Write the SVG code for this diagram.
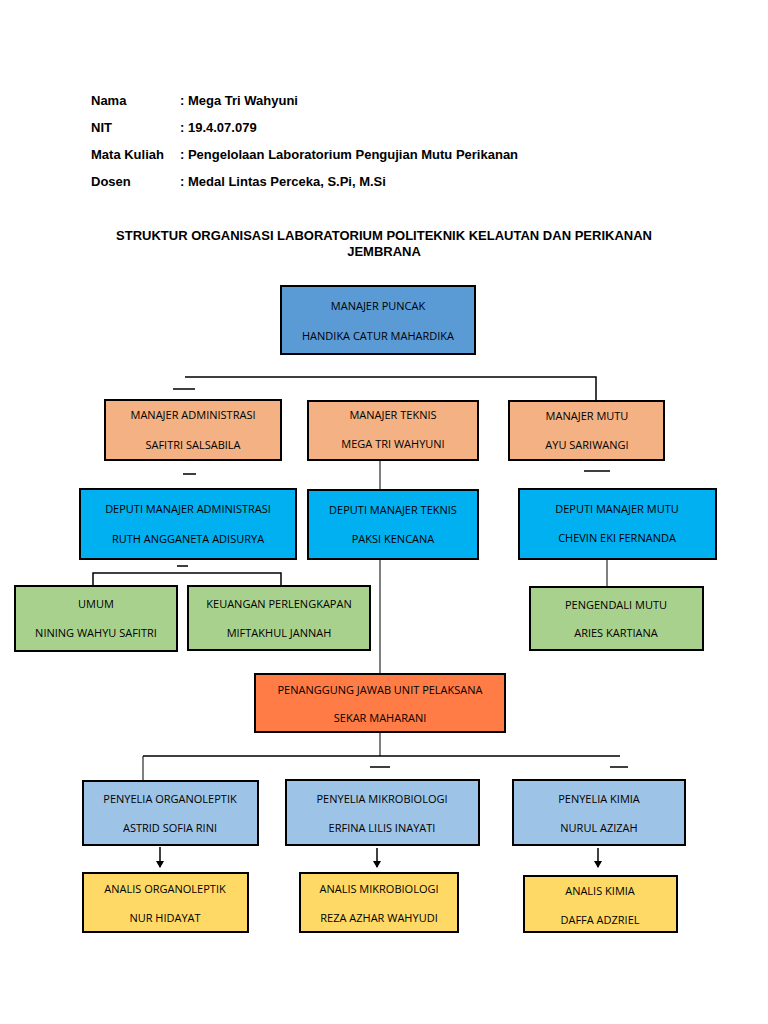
<svg xmlns="http://www.w3.org/2000/svg" width="768" height="1024" viewBox="0 0 768 1024">
<style>
.h{font-family:"Liberation Sans",Arial,sans-serif;font-size:13px;font-weight:bold;fill:#000}
.t{font-family:"Open Sans","Liberation Sans",sans-serif;font-size:11px;fill:#000;text-anchor:middle}
.b{stroke:#000;stroke-width:2}
.c{stroke:#000;stroke-width:1.5;fill:none}
.g{stroke:#555;stroke-width:1.5;fill:none}
</style>
<defs><marker id="a" markerWidth="8" markerHeight="8" refX="6" refY="4" orient="auto" markerUnits="userSpaceOnUse"><path d="M0,0 L7,4 L0,8 z" fill="#000"/></marker></defs>
<rect width="768" height="1024" fill="#fff"/>
<g id="header">
<text class="h" x="91" y="105">Nama</text><text class="h" x="180" y="105">: Mega Tri Wahyuni</text>
<text class="h" x="91" y="132">NIT</text><text class="h" x="180" y="132">: 19.4.07.079</text>
<text class="h" x="91" y="159">Mata Kuliah</text><text class="h" x="180" y="159">: Pengelolaan Laboratorium Pengujian Mutu Perikanan</text>
<text class="h" x="91" y="186">Dosen</text><text class="h" x="180" y="186">: Medal Lintas Perceka, S.Pi, M.Si</text>
<text class="h" x="384" y="240" text-anchor="middle">STRUKTUR ORGANISASI LABORATORIUM POLITEKNIK KELAUTAN DAN PERIKANAN</text>
<text class="h" x="384" y="256" text-anchor="middle">JEMBRANA</text>
</g>
<g id="connectors">
<path class="c" d="M185,377 H596 V401"/>
<path class="g" d="M380,460 V490 M380,559 V674 M607,559 V587 M380,732 V756 M143,756 V781"/>
<path class="c" d="M93,586 V573 H281 V586 M143,756 H620"/>
<path class="c" d="M173,389 H195 M183,474 H196 M584,471 H610 M177,566 H188 M370,767 H390 M610,767 H628"/>
<path class="c" d="M160,847 V867" marker-end="url(#a)"/>
<path class="c" d="M377,848 V867" marker-end="url(#a)"/>
<path class="c" d="M598,848 V867" marker-end="url(#a)"/>
</g>
<g id="puncak"><rect class="b" x="281" y="286" width="194" height="68" fill="#5B9BD5"/><text class="t" x="378" y="310">MANAJER PUNCAK</text><text class="t" x="378" y="340">HANDIKA CATUR MAHARDIKA</text></g>
<g id="madm"><rect class="b" x="105" y="400" width="176" height="60" fill="#F4B183"/><text class="t" x="193" y="419">MANAJER ADMINISTRASI</text><text class="t" x="193" y="449">SAFITRI SALSABILA</text></g>
<g id="mtek"><rect class="b" x="308" y="401" width="170" height="59" fill="#F4B183"/><text class="t" x="393" y="419">MANAJER TEKNIS</text><text class="t" x="393" y="448">MEGA TRI WAHYUNI</text></g>
<g id="mmutu"><rect class="b" x="509" y="401" width="155" height="59" fill="#F4B183"/><text class="t" x="587" y="420">MANAJER MUTU</text><text class="t" x="587" y="449">AYU SARIWANGI</text></g>
<g id="dadm"><rect class="b" x="80" y="489" width="216" height="70" fill="#00B0F0"/><text class="t" x="188" y="513">DEPUTI MANAJER ADMINISTRASI</text><text class="t" x="188" y="543">RUTH ANGGANETA ADISURYA</text></g>
<g id="dtek"><rect class="b" x="308" y="490" width="170" height="69" fill="#00B0F0"/><text class="t" x="393" y="514">DEPUTI MANAJER TEKNIS</text><text class="t" x="393" y="543">PAKSI KENCANA</text></g>
<g id="dmutu"><rect class="b" x="519" y="489" width="197" height="70" fill="#00B0F0"/><text class="t" x="617" y="513">DEPUTI MANAJER MUTU</text><text class="t" x="617" y="542">CHEVIN EKI FERNANDA</text></g>
<g id="umum"><rect class="b" x="15" y="586" width="162" height="65" fill="#A9D18E"/><text class="t" x="96" y="608">UMUM</text><text class="t" x="96" y="637">NINING WAHYU SAFITRI</text></g>
<g id="keu"><rect class="b" x="188" y="586" width="182" height="64" fill="#A9D18E"/><text class="t" x="279" y="608">KEUANGAN PERLENGKAPAN</text><text class="t" x="279" y="637">MIFTAKHUL JANNAH</text></g>
<g id="pengendali"><rect class="b" x="530" y="587" width="173" height="63" fill="#A9D18E"/><text class="t" x="616" y="609">PENGENDALI MUTU</text><text class="t" x="616" y="637">ARIES KARTIANA</text></g>
<g id="pj"><rect class="b" x="255" y="674" width="250" height="58" fill="#FF7C47"/><text class="t" x="380" y="694">PENANGGUNG JAWAB UNIT PELAKSANA</text><text class="t" x="380" y="722">SEKAR MAHARANI</text></g>
<g id="porg"><rect class="b" x="83" y="781" width="175" height="64" fill="#9DC3E6"/><text class="t" x="170" y="803">PENYELIA ORGANOLEPTIK</text><text class="t" x="170" y="832">ASTRID SOFIA RINI</text></g>
<g id="pmik"><rect class="b" x="286" y="780" width="193" height="65" fill="#9DC3E6"/><text class="t" x="382" y="803">PENYELIA MIKROBIOLOGI</text><text class="t" x="382" y="832">ERFINA LILIS INAYATI</text></g>
<g id="pkim"><rect class="b" x="513" y="780" width="172" height="65" fill="#9DC3E6"/><text class="t" x="599" y="803">PENYELIA KIMIA</text><text class="t" x="599" y="832">NURUL AZIZAH</text></g>
<g id="aorg"><rect class="b" x="83" y="873" width="165" height="59" fill="#FFD966"/><text class="t" x="165" y="893">ANALIS ORGANOLEPTIK</text><text class="t" x="165" y="922">NUR HIDAYAT</text></g>
<g id="amik"><rect class="b" x="300" y="873" width="158" height="59" fill="#FFD966"/><text class="t" x="379" y="893">ANALIS MIKROBIOLOGI</text><text class="t" x="379" y="922">REZA AZHAR WAHYUDI</text></g>
<g id="akim"><rect class="b" x="524" y="876" width="153" height="56" fill="#FFD966"/><text class="t" x="600" y="895">ANALIS KIMIA</text><text class="t" x="600" y="924">DAFFA ADZRIEL</text></g>
</svg>
